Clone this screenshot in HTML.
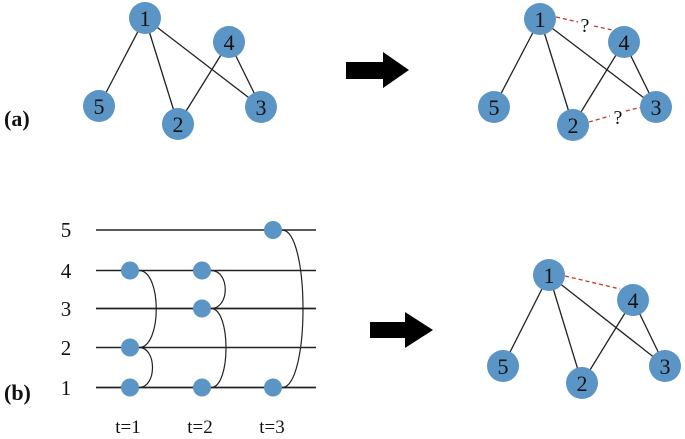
<!DOCTYPE html>
<html><head><meta charset="utf-8"><style>
html,body{margin:0;padding:0;background:#fff;}
svg{display:block;}
text{font-family:"Liberation Serif",serif;}
</style></head><body>
<svg width="685" height="439" viewBox="0 0 685 439" xmlns="http://www.w3.org/2000/svg">
<g stroke="#222" stroke-width="1.3" fill="none">
<!-- top-left edges -->
<line x1="145" y1="18" x2="99" y2="106"/><line x1="145" y1="18" x2="178" y2="124"/><line x1="145" y1="18" x2="261" y2="107"/>
<line x1="229" y1="42" x2="178" y2="124"/><line x1="229" y1="42" x2="261" y2="107"/>
<!-- top-right -->
<line x1="540" y1="19" x2="494" y2="107"/><line x1="540" y1="19" x2="573" y2="125"/><line x1="540" y1="19" x2="656" y2="107"/>
<line x1="624" y1="42" x2="573" y2="125"/><line x1="624" y1="42" x2="656" y2="107"/>
<!-- bottom-right -->
<line x1="549" y1="275" x2="503" y2="366"/><line x1="549" y1="275" x2="582" y2="383"/><line x1="549" y1="275" x2="665" y2="366"/>
<line x1="633" y1="300" x2="582" y2="383"/><line x1="633" y1="300" x2="665" y2="366"/>
</g>
<g stroke="#c0392b" stroke-width="1.3" stroke-dasharray="4,3" fill="none">
<line x1="556" y1="17" x2="578" y2="22"/><line x1="594" y1="26" x2="612" y2="30"/>
<line x1="589" y1="122" x2="610" y2="116"/><line x1="626" y1="111" x2="642" y2="107"/>
<line x1="565" y1="276" x2="620" y2="289"/>
</g>
<g font-size="20" fill="#111">
<text x="585" y="32" text-anchor="middle">?</text>
<text x="618" y="124" text-anchor="middle">?</text>
</g>
<!-- nodes -->
<g fill="#5b95c6">
<circle cx="145" cy="18" r="16"/><circle cx="229" cy="42" r="16"/><circle cx="99" cy="106" r="16"/><circle cx="178" cy="124" r="16"/><circle cx="261" cy="107" r="16"/>
<circle cx="540" cy="19" r="16"/><circle cx="624" cy="42" r="16"/><circle cx="494" cy="107" r="16"/><circle cx="573" cy="125" r="16"/><circle cx="656" cy="107" r="16"/>
<circle cx="549" cy="275" r="16"/><circle cx="633" cy="300" r="16"/><circle cx="503" cy="366" r="16"/><circle cx="582" cy="383" r="16"/><circle cx="665" cy="366" r="16"/>
</g>
<g font-size="22" fill="#111" text-anchor="middle">
<text x="145" y="26">1</text><text x="229" y="50">4</text><text x="99" y="114">5</text><text x="178" y="132">2</text><text x="261" y="115">3</text>
<text x="540" y="27">1</text><text x="624" y="50">4</text><text x="494" y="115">5</text><text x="573" y="133">2</text><text x="656" y="115">3</text>
<text x="549" y="283">1</text><text x="633" y="308">4</text><text x="503" y="374">5</text><text x="582" y="391">2</text><text x="665" y="374">3</text>
</g>
<!-- arrows -->
<polygon points="346,62 383,62 383,52 409,70 383,88 383,79 346,79" fill="#000"/>
<polygon points="370,322 405,322 405,312 433,330 405,348 405,338 370,338" fill="#000"/>
<!-- labels -->
<g font-size="22" font-weight="bold" fill="#111">
<text x="4" y="126">(a)</text>
<text x="4" y="400">(b)</text>
</g>
<!-- timeline -->
<g stroke="#222" stroke-width="1.4">
<line x1="96" y1="230" x2="316" y2="230"/><line x1="96" y1="270.5" x2="316" y2="270.5"/>
<line x1="96" y1="308.5" x2="316" y2="308.5" stroke-width="1.8"/><line x1="96" y1="347.5" x2="316" y2="347.5"/>
<line x1="96" y1="387.5" x2="316" y2="387.5" stroke-width="1.8"/>
</g>
<g stroke="#222" stroke-width="1.2" fill="none">
<path d="M139,270.5 C162,270.5 162,347.5 139,347.5"/>
<path d="M139,347.5 C157,347.5 157,387.5 139,387.5"/>
<path d="M211,270.5 C230,270.5 230,308.5 211,308.5"/>
<path d="M211,308.5 C231,308.5 231,387.5 211,387.5"/>
<path d="M282,230 C310,230 310,387.5 282,387.5"/>
</g>
<g fill="#5b95c6">
<circle cx="130" cy="270.5" r="9"/><circle cx="130" cy="347.5" r="9"/><circle cx="130" cy="387.5" r="9"/>
<circle cx="202" cy="270.5" r="9"/><circle cx="202" cy="308.5" r="9"/><circle cx="202" cy="387.5" r="9"/>
<circle cx="273" cy="230" r="9"/><circle cx="273" cy="387.5" r="9"/>
</g>
<g font-size="21" fill="#111" text-anchor="middle">
<text x="66" y="237">5</text><text x="66" y="278">4</text><text x="66" y="316">3</text><text x="66" y="355">2</text><text x="66" y="395">1</text>
</g>
<g font-size="19" fill="#111" text-anchor="middle">
<text x="128" y="433">t=1</text><text x="200" y="433">t=2</text><text x="272" y="433">t=3</text>
</g>
</svg>
</body></html>
